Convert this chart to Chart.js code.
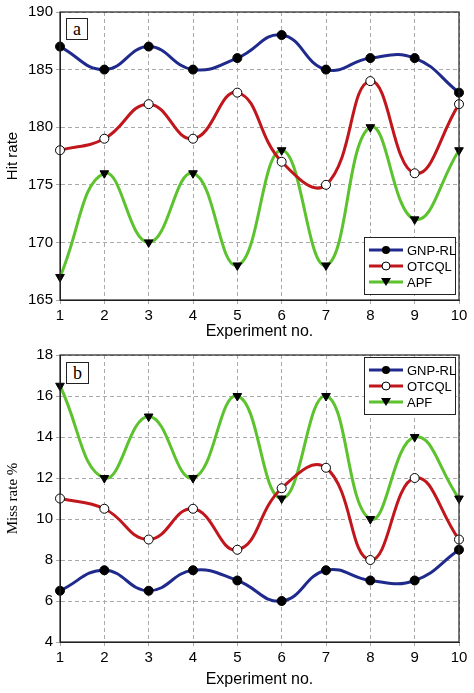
<!DOCTYPE html>
<html><head><meta charset="utf-8">
<script src="https://cdn.jsdelivr.net/npm/chart.js@4"></script>
<style>
body{margin:0;background:#fff;width:474px;height:693px;position:relative;overflow:hidden;font-family:"Liberation Sans",Arial,sans-serif}
canvas{position:absolute;left:0}
.lab{position:absolute;border:1.5px solid #222;background:#fff;font-family:"Liberation Serif",serif;font-size:18px;line-height:20px;padding:0 6px}
.leg{position:absolute;border:1.5px solid #222;background:#fff;font-size:13px;padding:4px 4px;white-space:nowrap;box-sizing:border-box}
.leg div{display:flex;align-items:center;height:16px}
.leg svg{margin-right:4px;flex:none}
</style></head><body>
<canvas id="c1" width="474" height="345" style="top:0;width:474px;height:345px"></canvas>
<canvas id="c2" width="474" height="350" style="top:343px;width:474px;height:350px"></canvas>
<div class="lab" style="left:66px;top:18px">a</div>
<div class="lab" style="left:66px;top:362px">b</div>
<div class="leg" style="left:364px;top:237px;width:92px" id="l1"></div>
<div class="leg" style="left:364px;top:357px;width:92px" id="l2"></div>
<script>
const experiments=['1','2','3','4','5','6','7','8','9','10'];
const hitGNP=[187,185,187,185,186,188,185,186,186,183];
const hitOTCQL=[178,179,182,179,183,177,175,184,176,182];
const hitAPF=[167,176,170,176,168,178,168,180,172,178];
const missGNP=[6.5,7.5,6.5,7.5,7,6,7.5,7,7,8.5];
const missOTCQL=[11,10.5,9,10.5,8.5,11.5,12.5,8,12,9];
const missAPF=[16.5,12,15,12,16,11,16,10,14,11];
const names=['GNP-RL','OTCQL','APF'];
const colors=['#1f2a8c','#c0161c','#5cc22e'];
const SANS='"Liberation Sans", Arial, sans-serif';

function ds(data,i){
  const ps=[{pointStyle:'circle',pointBackgroundColor:'#000',pointRadius:4.5},
            {pointStyle:'circle',pointBackgroundColor:'#fff',pointRadius:4.5},
            {pointStyle:'triangle',rotation:180,pointBackgroundColor:'#000',pointRadius:5}][i];
  return Object.assign({label:names[i],data,borderColor:colors[i],borderWidth:3,tension:0.45,
    pointBorderColor:'#000',pointBorderWidth:1},ps);
}
const frame={id:'frame',afterDraw(c){const a=c.chartArea,x=c.ctx;x.save();x.strokeStyle='#222';x.lineWidth=1.2;x.strokeRect(a.left,a.top,a.right-a.left,a.bottom-a.top);x.restore();}};
function make(id,sets,min,max,step,title,titleFont,xh){
  new Chart(document.getElementById(id),{type:'line',
    data:{labels:experiments,datasets:sets},
    options:{responsive:false,animation:false,
      layout:{padding:{top:12,right:15}},
      plugins:{legend:{display:false},tooltip:{enabled:false}},
      scales:{
        x:{offset:false,grid:{color:'#aaa',tickLength:4},border:{color:'#222',dash:[4,3]},
           ticks:{color:'#000',font:{size:15,family:SANS}},
           title:{display:true,text:'Experiment no.',color:'#000',font:{size:16,family:SANS},padding:{top:0}},
           afterFit(s){s.height=xh;}},
        y:{min,max,grid:{color:'#aaa',tickLength:4},border:{color:'#222',dash:[4,3]},
           ticks:{stepSize:step,color:'#000',font:{size:15,family:SANS}},
           title:{display:true,text:title,color:'#000',font:titleFont},
           afterFit(s){s.width=60;}}
      }},plugins:[frame]});
}
make('c1',[ds(hitGNP,0),ds(hitOTCQL,1),ds(hitAPF,2)],165,190,5,'Hit rate',{size:15,family:SANS},45);
make('c2',[ds(missGNP,0),ds(missOTCQL,1),ds(missAPF,2)],4,18,2,'Miss rate %',{size:15,family:'"Liberation Serif", serif'},51);
function leg(id){
  const el=document.getElementById(id);
  const mk=['<circle cx="17" cy="6" r="4" fill="#000"/>','<circle cx="17" cy="6" r="4" fill="#fff" stroke="#000"/>','<polygon points="12,2 22,2 17,10" fill="#000"/>'];
  names.forEach((n,i)=>{el.innerHTML+='<div><svg width="34" height="12"><line x1="0" y1="6" x2="34" y2="6" stroke="'+colors[i]+'" stroke-width="3"/>'+mk[i]+'</svg>'+n+'</div>';});
}
leg('l1');leg('l2');
</script></body></html>
